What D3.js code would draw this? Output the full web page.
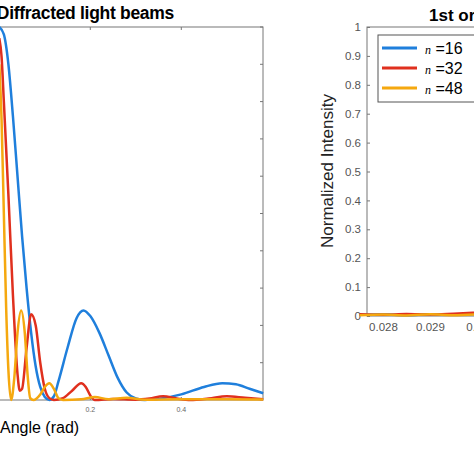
<!DOCTYPE html><html><head><script src="https://cdn.jsdelivr.net/npm/d3@7"></script>
<style>body{margin:0;background:#fff}svg{font-family:Arial,"Liberation Sans",sans-serif}</style></head><body>
<svg id="c" width="474" height="474"></svg>
<script>
const seriesNames=["n =16","n =32","n =48"];
const colors=["#1f7fdc","#e0301e","#f5a80f"];
const blue=[[0,1],[0.01,0.98],[0.02,0.9],[0.03,0.76],[0.04,0.6],[0.05,0.44],[0.06,0.3],[0.07,0.18],[0.08,0.09],[0.09,0.035],[0.1,0.008],[0.11,0],[0.12,0.01],[0.13,0.05],[0.15,0.14],[0.17,0.22],[0.185,0.24],[0.2,0.225],[0.22,0.18],[0.24,0.12],[0.26,0.06],[0.28,0.02],[0.3,0.004],[0.32,0],[0.35,0.003],[0.4,0.015],[0.45,0.035],[0.49,0.045],[0.52,0.042],[0.55,0.03],[0.58,0.018]];
const red=[[0,0.97],[0.005,0.92],[0.01,0.8],[0.02,0.55],[0.03,0.28],[0.04,0.07],[0.045,0.025],[0.05,0.03],[0.06,0.14],[0.07,0.23],[0.08,0.2],[0.09,0.1],[0.1,0.03],[0.11,0.005],[0.12,0],[0.14,0.005],[0.16,0.025],[0.18,0.045],[0.19,0.035],[0.2,0.012],[0.21,0],[0.25,0.003],[0.3,0.001],[0.33,0.004],[0.36,0.01],[0.39,0.004],[0.42,0],[0.46,0.004],[0.5,0.01],[0.54,0.006],[0.58,0.002]];
const orange=[[0,0.9],[0.005,0.75],[0.01,0.5],[0.015,0.25],[0.02,0.08],[0.026,0],[0.033,0.06],[0.04,0.18],[0.048,0.24],[0.056,0.18],[0.062,0.07],[0.068,0.005],[0.075,0],[0.09,0.015],[0.1,0.035],[0.11,0.045],[0.12,0.03],[0.13,0.005],[0.14,0],[0.18,0.002],[0.21,0.008],[0.24,0.002],[0.28,0.006],[0.32,0.001],[0.4,0.002],[0.5,0.002],[0.58,0.001]];
const leftXTicks=[0.2,0.4];
const yTicks=[0,0.1,0.2,0.3,0.4,0.5,0.6,0.7,0.8,0.9,1];
const rightXTicks=[0.028,0.029,0.03];
const rBlue=[[0.0275,0.004],[0.0280,0.006],[0.0285,0.003],[0.0290,0.006],[0.0295,0.004],[0.0300,0.008]];
const rRed=[[0.0275,0.006],[0.0280,0.004],[0.0285,0.007],[0.0290,0.005],[0.0295,0.008],[0.0300,0.012]];
const rOrange=[[0.0275,0.003],[0.0280,0.005],[0.0285,0.002],[0.0290,0.006],[0.0295,0.003],[0.0300,0.006]];

const svg=d3.select("#c");
const xL=d3.scaleLinear().domain([0,0.2]).range([-0.7,90.3]);
const yL=d3.scaleLinear().domain([0,1]).range([400,27]);
const gL=svg.append("g");
gL.append("rect").attr("x",-2).attr("y",27).attr("width",265).attr("height",373).attr("fill","none").attr("stroke","#777");
gL.selectAll(".yt").data(yTicks).join("line").attr("x1",263).attr("x2",260).attr("y1",d=>yL(d)).attr("y2",d=>yL(d)).attr("stroke","#777");
leftXTicks.forEach(t=>{
 gL.append("line").attr("x1",xL(t)).attr("x2",xL(t)).attr("y1",27).attr("y2",30).attr("stroke","#777");
 gL.append("line").attr("x1",xL(t)).attr("x2",xL(t)).attr("y1",400).attr("y2",397).attr("stroke","#777");
 gL.append("text").attr("x",xL(t)).attr("y",412).attr("text-anchor","middle").attr("font-size",7).attr("fill","#666").text(t);
});
const lineL=d3.line().x(d=>xL(d[0])).y(d=>yL(d[1])).curve(d3.curveMonotoneX);
[blue,red,orange].forEach((s,i)=>gL.append("path").attr("d",lineL(s)).attr("fill","none").attr("stroke",colors[i]).attr("stroke-width",2.5));
svg.append("text").attr("x",174).attr("y",19).attr("text-anchor","end").attr("font-size",17.5).attr("font-weight","bold").attr("letter-spacing",-0.3).text("Diffracted light beams");
svg.append("text").attr("x",0).attr("y",433).attr("font-size",16).text("Angle (rad)");

const xR=d3.scaleLinear().domain([0.028,0.029]).range([383,430]);
const yR=d3.scaleLinear().domain([0,1]).range([316,27]);
const gR=svg.append("g");
gR.append("rect").attr("x",367).attr("y",27).attr("width",120).attr("height",289).attr("fill","none").attr("stroke","#777");
gR.append("g").attr("transform","translate(367,0)").call(d3.axisLeft(yR).tickValues(yTicks).tickSize(-3).tickPadding(6).tickFormat(d3.format("~g")))
 .call(g=>{g.select(".domain").remove();g.selectAll("line").attr("stroke","#777");g.selectAll("text").attr("font-size",11.5).attr("fill","#555");});
gR.append("g").attr("transform","translate(0,316)").call(d3.axisBottom(xR).tickValues(rightXTicks).tickSize(-3).tickPadding(7).tickFormat(d3.format("~g")))
 .call(g=>{g.select(".domain").remove();g.selectAll("line").attr("stroke","#777");g.selectAll("text").attr("font-size",11.5).attr("fill","#555");});
const lineR=d3.line().x(d=>xR(d[0])).y(d=>yR(d[1])).curve(d3.curveMonotoneX);
[rBlue,rRed,rOrange].forEach((s,i)=>gR.append("path").attr("d",lineR(s)).attr("fill","none").attr("stroke",colors[i]).attr("stroke-width",2.5));
svg.append("text").attr("x",429).attr("y",21).attr("font-size",17).attr("font-weight","bold").text("1st order");
svg.append("text").attr("transform","translate(333,171) rotate(-90)").attr("text-anchor","middle").attr("font-size",17).attr("fill","#222").text("Normalized Intensity");
const lg=svg.append("g");
lg.append("rect").attr("x",378).attr("y",35).attr("width",110).attr("height",67).attr("fill","#fff").attr("stroke","#555");
seriesNames.forEach((n,i)=>{
 const y=48+i*20;
 lg.append("line").attr("x1",382).attr("x2",417).attr("y1",y).attr("y2",y).attr("stroke",colors[i]).attr("stroke-width",3);
 const t=lg.append("text").attr("x",425).attr("y",y+6).attr("font-size",16);
 t.append("tspan").attr("font-style","italic").attr("font-family","Liberation Serif,serif").attr("font-size",12).text("n");
 t.append("tspan").text(" ="+n.split("=")[1]);
});
</script></body></html>
